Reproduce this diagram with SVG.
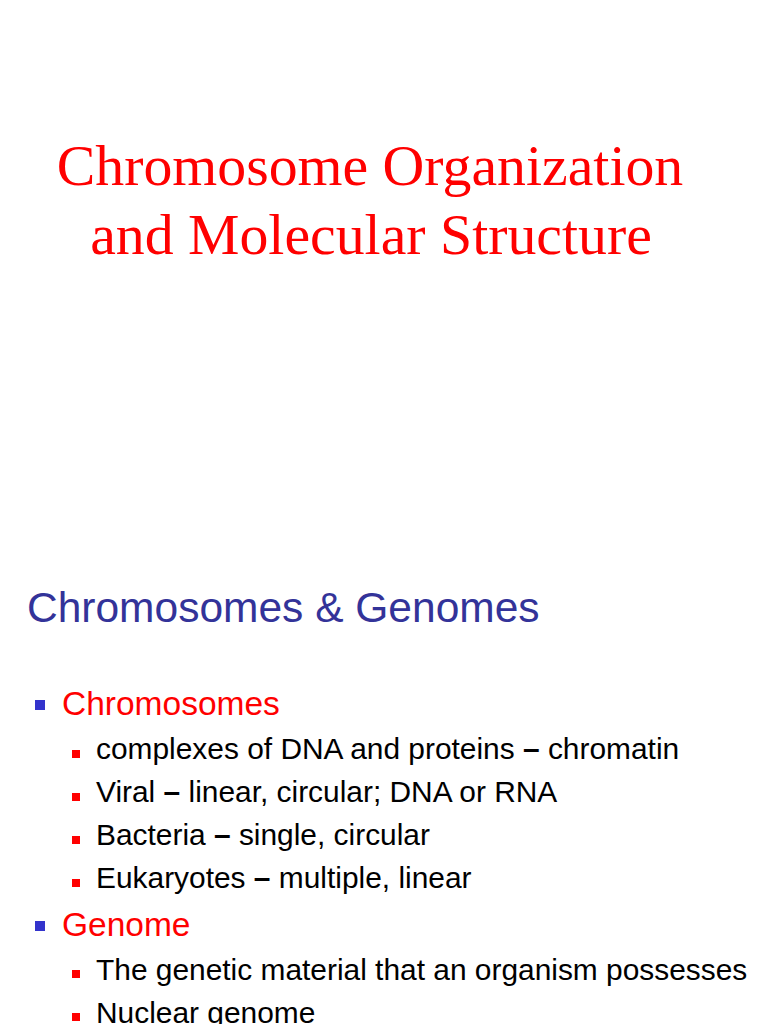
<svg xmlns="http://www.w3.org/2000/svg" width="768" height="1024" viewBox="0 0 768 1024">
<style>
.t{font-family:"Liberation Serif",serif;fill:#ff0000;font-size:57.8px;text-anchor:middle}
.h{font-family:"Liberation Sans",sans-serif;fill:#333399;font-size:42.5px}
.b1{font-family:"Liberation Sans",sans-serif;fill:#ff0000;font-size:33.5px}
.b2{font-family:"Liberation Sans",sans-serif;fill:#000;font-size:29.9px}
.sq1{fill:#3333cc}.sq2{fill:#ff0000}
</style>
<rect width="768" height="1024" fill="#fff"/>
<text class="t" x="370" y="185">Chromosome Organization</text>
<text class="t" x="371" y="254">and Molecular Structure</text>
<text class="h" x="27" y="622">Chromosomes &amp; Genomes</text>
<rect class="sq1" x="35" y="700" width="10" height="10"/>
<text class="b1" x="62" y="715">Chromosomes</text>
<rect class="sq2" x="72" y="750" width="8" height="8"/>
<text class="b2" x="96" y="759">complexes of DNA and proteins <tspan font-weight="bold">–</tspan> chromatin</text>
<rect class="sq2" x="72" y="793" width="8" height="8"/>
<text class="b2" x="96" y="802">Viral <tspan font-weight="bold">–</tspan> linear, circular; DNA or RNA</text>
<rect class="sq2" x="72" y="836" width="8" height="8"/>
<text class="b2" x="96" y="845">Bacteria <tspan font-weight="bold">–</tspan> single, circular</text>
<rect class="sq2" x="72" y="879" width="8" height="8"/>
<text class="b2" x="96" y="888">Eukaryotes <tspan font-weight="bold">–</tspan> multiple, linear</text>
<rect class="sq1" x="35" y="921" width="10" height="10"/>
<text class="b1" x="62" y="936">Genome</text>
<rect class="sq2" x="72" y="970" width="8" height="8"/>
<text class="b2" x="96" y="980">The genetic material that an organism possesses</text>
<rect class="sq2" x="72" y="1013" width="8" height="8"/>
<text class="b2" x="96" y="1023">Nuclear genome</text>
</svg>
